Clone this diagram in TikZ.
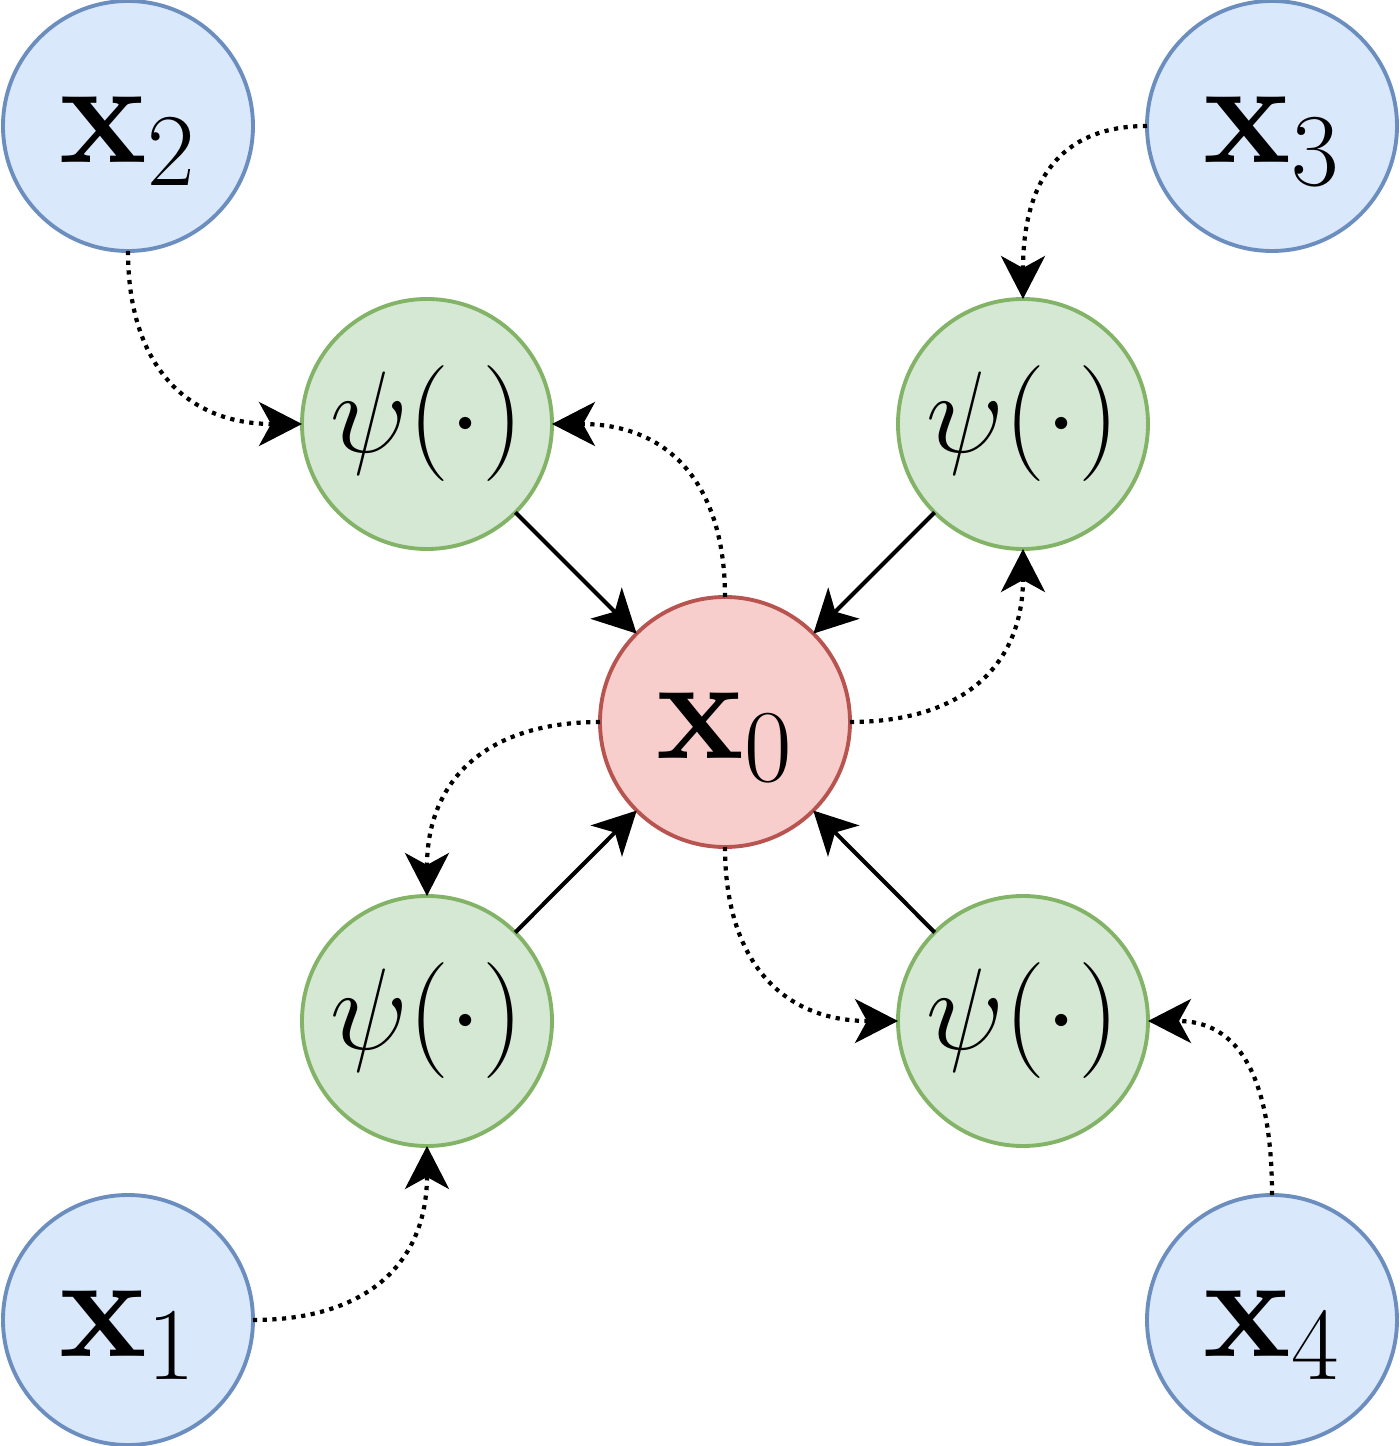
\RequirePackage{fix-cm}
\documentclass[tikz,border=0pt]{standalone}
\usepackage{amsmath}
\usepackage{amssymb}
\usetikzlibrary{arrows.meta,positioning}

\definecolor{blueF}{HTML}{DAE8FC}
\definecolor{blueD}{HTML}{6C8EBF}
\definecolor{greenF}{HTML}{D5E8D4}
\definecolor{greenD}{HTML}{82B366}
\definecolor{redF}{HTML}{F8CECC}
\definecolor{redD}{HTML}{B85450}

\begin{document}
\begin{tikzpicture}
 \tikzstyle{arrow} = [-{Stealth[length=0.43cm,width=0.44cm,inset=0.12cm]},line width=1.15pt];
 \tikzstyle{dotarrow} = [arrow,line width=1.2pt,dash pattern=on 1.2pt off 1.55pt,looseness=1.2];
 \tikzstyle{circles} = [circle,line width=1.1pt,minimum size=2.5cm,inner sep=0pt,outer sep=0pt,on grid];
 \tikzstyle{bigtext} = [font=\fontsize{42}{48}\selectfont,text height=21pt,text depth=0pt];
 \tikzstyle{placeB} = [draw=blueD,fill=blueF,bigtext];
 \tikzstyle{placeR} = [draw=redD,fill=redF,bigtext];
 \tikzstyle{placeG} = [draw=greenD,fill=greenF,font=\fontsize{33}{40}\selectfont];

 \useasboundingbox (-7.25,7.22) rectangle (6.75,-7.24);

 %% centre
 \node[circles,placeR,name=x0] at (0,0) {$\mathbf{x}_0$};

 %% psi nodes
 \node[circles,placeG,name=psiTL,above left=2.98cm and 2.98cm of x0] {$\psi(\cdot)$};
 \node[circles,placeG,name=psiTR,above right=2.98cm and 2.98cm of x0] {$\psi(\cdot)$};
 \node[circles,placeG,name=psiBL,below left=2.99cm and 2.98cm of x0] {$\psi(\cdot)$};
 \node[circles,placeG,name=psiBR,below right=2.99cm and 2.98cm of x0] {$\psi(\cdot)$};

 %% outer nodes
 \node[circles,placeB,name=x2,above left=2.98cm and 2.99cm of psiTL] {$\mathbf{x}_2$};
 \node[circles,placeB,name=x3,above right=2.98cm and 2.49cm of psiTR] {$\mathbf{x}_3$};
 \node[circles,placeB,name=x1,below left=2.99cm and 2.99cm of psiBL] {$\mathbf{x}_1$};
 \node[circles,placeB,name=x4,below right=2.99cm and 2.49cm of psiBR] {$\mathbf{x}_4$};

 %% psi -> x0
 \path (psiTL) edge [arrow] (x0);
 \path (psiTR) edge [arrow] (x0);
 \path (psiBL) edge [arrow] (x0);
 \path (psiBR) edge [arrow] (x0);

 %% x0 -> psi
 \path (x0.north) edge [dotarrow,out=90,in=0] (psiTL.east);
 \path (x0.east) edge [dotarrow,out=0,in=-90] (psiTR.south);
 \path (x0.west) edge [dotarrow,out=180,in=90] (psiBL.north);
 \path (x0.south) edge [dotarrow,out=-90,in=180] (psiBR.west);

 %% outer -> psi
 \path (x2.south) edge [dotarrow,out=-90,in=180] (psiTL.west);
 \path (x3.west) edge [dotarrow,out=180,in=90] (psiTR.north);
 \path (x1.east) edge [dotarrow,out=0,in=-90] (psiBL.south);
 \path (x4.north) edge [dotarrow,out=90,in=0] (psiBR.east);

\end{tikzpicture}
\end{document}
